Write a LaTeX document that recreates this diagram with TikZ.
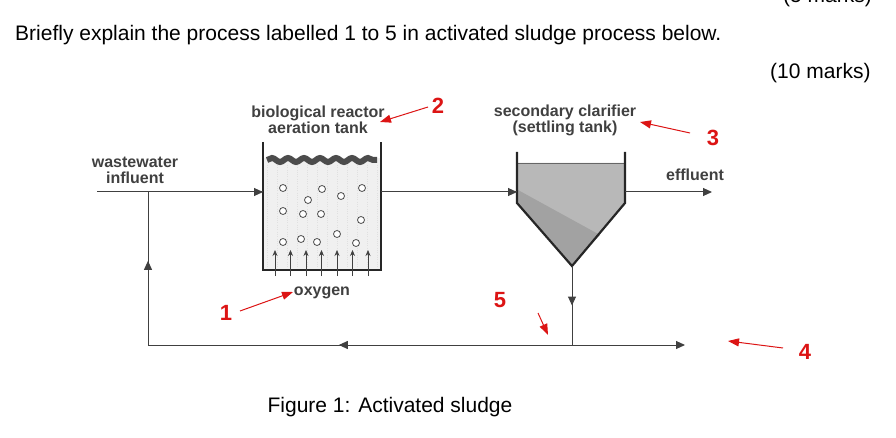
\documentclass[tikz,border=0pt]{standalone}
\usepackage{fontspec}
\setmainfont{Liberation Sans}
\usetikzlibrary{arrows.meta,decorations.markings,decorations.pathmorphing}
\definecolor{redl}{RGB}{220,20,20}
\begin{document}
\begin{tikzpicture}[x=1pt,y=-1pt,
  pipe/.style={draw=black!75,line width=1pt},
  mid/.style={postaction={decorate},decoration={markings,mark=at position #1 with {\arrow{Triangle[length=9pt,width=8pt]}}}},
  lbl/.style={font=\fontsize{16}{16}\selectfont\bfseries,text=black!75,align=center,inner sep=0},
  red/.style={draw=redl,line width=1pt,-{Triangle[length=11pt,width=8pt]}},
  num/.style={font=\fontsize{22}{22}\selectfont\bfseries,text=redl,inner sep=0},
  txt/.style={font=\fontsize{21}{24}\selectfont,inner sep=0,anchor=west},
  wall/.style={draw=black!85,line width=2.2pt}]
\useasboundingbox (0,0) rectangle (896,438);
\node[txt] (q) at (15,35) {Briefly explain the process labelled 1 to 5 in activated sludge process below.};
\node[txt] (m5) at (783,-3) {(5 marks)};
\node[txt] (m10) at (770,73) {(10 marks)};
% tank
\fill[black!6] (263,158) rectangle (381,270);
\foreach \x in {267,277,...,377}{\draw[black!12,line width=0.3pt,dotted] (\x,165)--(\x,268);}
\draw[black!70,line width=6pt,decorate,decoration={snake,amplitude=2pt,segment length=16pt}] (267,160)--(377,160);
\draw[wall] (263,142)--(263,270)--(381,270)--(381,142);
\foreach \p in {(283,188),(322,189),(362,188),(308,200),(341,196),(283,211),(303,214),(321,214),(361,220),(283,242),(301,239),(317,242),(337,234),(356,243)}
  \draw[black!70,line width=0.8pt,fill=white] \p circle (3.5);
\foreach \x in {275,290.5,...,368}
  \draw[black!75,line width=0.7pt,-{Stealth[length=6pt,width=5pt]}] (\x,276)--(\x,250);
% clarifier
\fill[black!28] (517,163)--(625,163)--(625,203)--(572,266)--(517,203)--cycle;
\fill[black!42,opacity=0.6] (518,190)--(600,235)--(572,264)--(518,203)--cycle;
\draw[black!60,line width=0.6pt] (517,163)--(625,163);
\draw[wall] (517,152)--(517,203)--(572,266)--(625,203)--(625,152);
% nodes
\coordinate (tin) at (263,192); \coordinate (tout) at (381,192);
\coordinate (cin) at (517,192); \coordinate (cout) at (625,192);
\coordinate (apex) at (572,266); \coordinate (jb) at (572,345);
\coordinate (start) at (97,192); \coordinate (split) at (148,192);
\coordinate (bl) at (148,345); \coordinate (br) at (685,345);
\coordinate (eff) at (712,192);
\draw[pipe,mid=1] (start)--(tin);
\draw[pipe,mid=1] (tout)--(cin);
\draw[pipe,-{Triangle[length=9pt,width=8pt]}] (cout)--(eff);
\draw[pipe,mid=0.5] (apex)--(jb);
\draw[pipe,-{Triangle[length=9pt,width=8pt]}] (jb)--(br);
\draw[pipe,mid=0.55] (jb)--(bl);
\draw[pipe,mid=0.55] (bl)--(split);
% labels
\node[lbl] (ww) at (135,170) {wastewater\\influent};
\node[lbl] (br1) at (318,120) {biological reactor\\aeration tank};
\node[lbl] (sc) at (565,120) {secondary clarifier\\(settling tank)};
\node[lbl] (effl) at (695,175) {effluent};
\node[lbl] (oxy) at (322,293) {oxygen};
% red
\node[num] (n1) at (226,313) {1};
\node[num] (n2) at (438,106) {2};
\node[num] (n3) at (713,138) {3};
\node[num] (n4) at (805,352) {4};
\node[num] (n5) at (500,300) {5};
\coordinate (a1) at (293,292); \coordinate (a2) at (380,122); \coordinate (a3) at (640,122);
\coordinate (a4) at (728,341); \coordinate (a5) at (548,335);
\coordinate (s1) at (240,311); \coordinate (s2) at (428,107); \coordinate (s3) at (690,133);
\coordinate (s4) at (783,348); \coordinate (s5) at (538,313);
\draw[red] (s1)--(a1); \draw[red] (s2)--(a2); \draw[red] (s3)--(a3);
\draw[red] (s4)--(a4); \draw[red] (s5)--(a5);
\node[txt,anchor=center] (cap) at (390,407) {Figure 1: Activated sludge};
\end{tikzpicture}
\end{document}
